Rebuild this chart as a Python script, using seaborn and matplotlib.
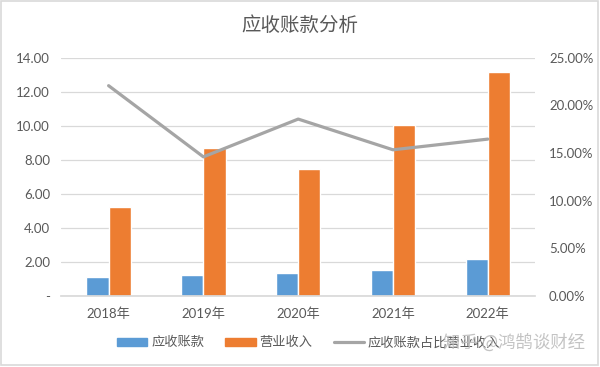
import pandas as pd
import matplotlib.pyplot as plt
import seaborn as sns
from matplotlib.patches import Rectangle
from matplotlib.lines import Line2D
from matplotlib.ticker import FuncFormatter

years = ["2018年", "2019年", "2020年", "2021年", "2022年"]
receivables = [1.13, 1.25, 1.37, 1.53, 2.16]
revenue = [5.24, 8.68, 7.45, 10.02, 13.15]
ratio = [0.2206, 0.1460, 0.1856, 0.1534, 0.1646]

series_names = ["应收账款", "营业收入", "应收账款占比营业收入"]
colors = ["#5B9BD5", "#ED7D31", "#A5A5A5"]
text_color = "#595959"

sns.set_theme(style="white")
plt.rcParams["font.family"] = ["Lato", "Noto Sans CJK SC", "DejaVu Sans"]

df = pd.DataFrame({
    "year": years * 2,
    "value": receivables + revenue,
    "series": [series_names[0]] * len(years) + [series_names[1]] * len(years),
})

fig = plt.figure(figsize=(6, 3.67), dpi=100)
ax = fig.add_axes([0.102, 0.193, 0.790, 0.650])

sns.barplot(data=df, x="year", y="value", hue="series", palette=colors[:2],
            width=0.47, gap=0, ax=ax, legend=False, saturation=1)
ax.set_ylim(0, 14)
ax.set_yticks(range(0, 15, 2))
ax.yaxis.set_major_formatter(FuncFormatter(lambda v, p: "-" if v == 0 else f"{v:.2f}"))
ax.grid(axis="y", color="#D9D9D9", linewidth=0.9)
ax.set_axisbelow(True)
for s in ax.spines.values():
    s.set_visible(False)
ax.spines["bottom"].set_visible(True)
ax.spines["bottom"].set_color("#D9D9D9")
ax.set_xlabel("")
ax.set_ylabel("")
ax.tick_params(axis="both", colors=text_color, labelsize=9.5, length=0, pad=8)

# ratio line on the secondary axis
ax2 = ax.twinx()
sns.pointplot(x=years, y=ratio, ax=ax2, color=colors[2], markers="",
              linewidth=2.3, errorbar=None)
ax2.set_ylim(0, 0.25)
ax2.set_yticks([0, 0.05, 0.10, 0.15, 0.20, 0.25])
ax2.yaxis.set_major_formatter(FuncFormatter(lambda v, p: f"{v * 100:.2f}%"))
for s in ax2.spines.values():
    s.set_visible(False)
ax2.set_ylabel("")
ax2.tick_params(axis="y", colors=text_color, labelsize=9.5, length=0, pad=10)
ax.set_xlim(-0.5, len(years) - 0.5)
ax2.set_xlim(-0.5, len(years) - 0.5)

fig.text(0.5, 0.93, "应收账款分析", ha="center", va="center", fontsize=14,
         color=text_color, family=["Noto Sans CJK SC"])

handles = [
    Rectangle((0, 0), 1, 1, color=colors[0]),
    Rectangle((0, 0), 1, 1, color=colors[1]),
    Line2D([0], [0], color=colors[2], linewidth=2.3),
]
leg = fig.legend(handles, series_names, loc="center left", bbox_to_anchor=(0.175, 0.066),
                 ncol=3, frameon=False, handlelength=2.3, handleheight=0.55,
                 columnspacing=1.6, handletextpad=0.3,
                 prop={"family": ["Noto Sans CJK SC"], "size": 9.5})
for t in leg.get_texts():
    t.set_color(text_color)

# watermark over the legend, as in the source image
fig.text(0.975, 0.066, "知乎 @鸿鹄谈财经", ha="right", va="center", fontsize=12.5,
         color="#BDBDBD", alpha=0.9, zorder=10, family=["Noto Sans CJK SC"])

fig.patches.append(Rectangle((0.002, 0.006), 0.994, 0.99, transform=fig.transFigure,
                             fill=False, edgecolor="#D9D9D9", linewidth=1.2))

fig.savefig("out.png", dpi=100)
